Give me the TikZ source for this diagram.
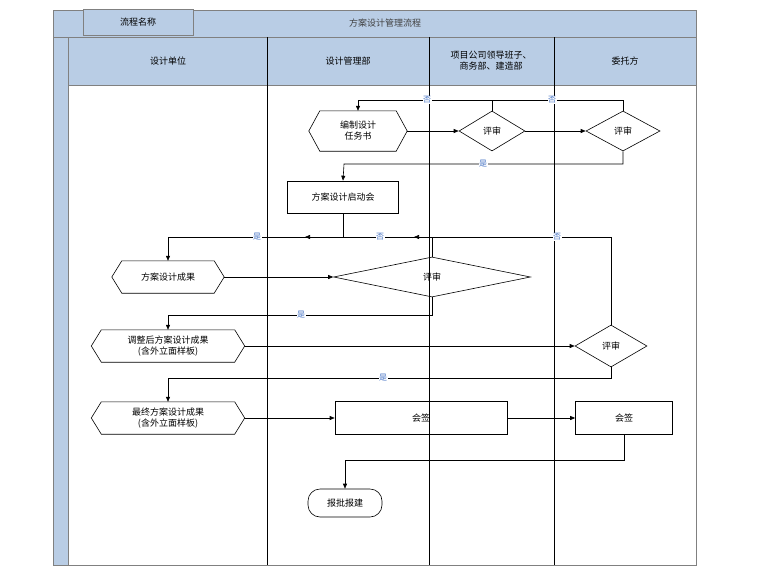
\documentclass[tikz,border=0pt]{standalone}
\usepackage{fontspec}
\setmainfont{Noto Sans CJK SC}
\usetikzlibrary{shapes.geometric,arrows.meta}
\definecolor{hdr}{RGB}{185,205,229}
\definecolor{lbl}{RGB}{68,114,196}
\newcommand{\hexdraw}[2]{\draw[line width=0.6pt] (#1.west) -- ([xshift=#2]#1.north west) -- ([xshift=-#2]#1.north east) -- (#1.east) -- ([xshift=-#2]#1.south east) -- ([xshift=#2]#1.south west) -- cycle;}
\begin{document}
\begin{tikzpicture}[x=1pt,y=-1pt,font=\fontsize{9}{11}\selectfont,
  box/.style={draw,line width=0.6pt,inner sep=0pt,align=center},
  hexn/.style={inner sep=0pt,align=center},
  dia/.style={draw,diamond,aspect=#1,inner sep=0pt,line width=0.6pt},
  ln/.style={line width=0.6pt},
  ar/.style={line width=0.6pt,-{Triangle[length=5pt,width=4pt]}},
  lab/.style={text=lbl,fill=white,inner sep=0.5pt,font=\fontsize{8}{9}\selectfont}]
\useasboundingbox (0,0) rectangle (760,570);
\fill[white] (0,0) rectangle (760,570);
% frame
\fill[hdr] (53,10) rectangle (696,37);
\fill[hdr] (53,37) rectangle (68,565);
\fill[hdr] (68,37) rectangle (696,85);
\draw[ln,gray] (53,10) rectangle (696,565);
\draw[ln,gray] (53,37) -- (696,37);
\draw[ln,gray] (68,37) -- (68,565);
\draw[ln,gray] (68,85) -- (696,85);
\node[box,draw=gray,fill=hdr,minimum width=110pt,minimum height=26pt] (pn) at (138,22) {流程名称};
\node[text=black!75] (title) at (385,23) {方案设计管理流程};
\foreach \x in {267,429,554} \draw[ln] (\x,37) -- (\x,565);
\draw[ln,dashed,gray] (53,565) -- (696,565);
\node (h1) at (168,61) {设计单位};
\node (h2) at (348,61) {设计管理部};
\node[align=center] (h3) at (491,61) {项目公司领导班子、\\商务部、建造部};
\node (h4) at (625,61) {委托方};
% nodes
\node[hexn,minimum width=98pt,minimum height=40pt] (bz) at (358,131) {编制设计\\任务书};\hexdraw{bz}{11pt}
\node[dia=1.6,minimum width=66pt,minimum height=40pt] (ps1) at (492,131) {评审};
\node[dia=1.8,minimum width=74pt,minimum height=40pt] (ps2) at (623,131) {评审};
\node[box,minimum width=111pt,minimum height=32pt] (qd) at (343,197) {方案设计启动会};
\node[hexn,minimum width=112pt,minimum height=32pt] (cg) at (168,277) {方案设计成果};\hexdraw{cg}{10pt}
\node[dia=4.9,minimum width=197pt,minimum height=40pt] (ps3) at (432,277) {评审};
\node[hexn,minimum width=153pt,minimum height=32pt] (tz) at (168,346) {调整后方案设计成果\\(含外立面样板)};\hexdraw{tz}{10pt}
\node[dia=1.7,minimum width=72pt,minimum height=42pt] (ps4) at (611,346) {评审};
\node[hexn,minimum width=153pt,minimum height=32pt] (zz) at (168,418) {最终方案设计成果\\(含外立面样板)};\hexdraw{zz}{10pt}
\node[box,minimum width=172pt,minimum height=33pt] (hq1) at (421,418) {会签};
\node[box,minimum width=97pt,minimum height=33pt] (hq2) at (624,418) {会签};
\node[box,rounded corners=12pt,minimum width=74pt,minimum height=28pt] (bp) at (345,503) {报批报建};
\coordinate (c1) at (358,100);
\coordinate (c2) at (344,164);
\coordinate (c3) at (168,237);
\coordinate (c4) at (432,237);
\coordinate (c5) at (168,315);
\coordinate (c6) at (168,378);
\coordinate (c7) at (345,460);
% connectors
\draw[ar] (bz) -- (ps1);
\draw[ar] (ps1) -- (ps2);
\draw[ln] (ps1.north) |- (c1);
\draw[ar] (ps2.north) |- (c1) -- (bz.north) node[lab,pos=0,xshift=69pt] {否} node[lab,pos=0,xshift=194pt] {否};
\draw[ar] (ps2.south) |- (c2) -- (qd.north) node[lab,pos=0,xshift=139pt] {是};
\draw[ln] (qd.south) |- (c3);
\draw[ar] (ps3.north) |- (c3) -- (cg.north);
\draw[ar] (c4) -- ++(-127,0);
\node[lab] at (257,237) {是};
\node[lab] at (380,237) {否};
\draw[ar] (ps4.north) |- ([xshift=-18pt]c4);
\draw[ln] ([xshift=-18pt]c4) -- (c4);
\node[lab] at (557,237) {否};
\draw[ar] (cg) -- (ps3);
\draw[ar] (ps3.south) |- (c5) -- (tz.north);
\node[lab] at (301,315) {是};
\draw[ar] (tz) -- (ps4);
\draw[ar] (ps4.south) |- (c6) -- (zz.north);
\node[lab] at (383,378) {是};
\draw[ar] (zz) -- (hq1);
\draw[ar] (hq1) -- (hq2);
\draw[ar] (hq2.south) |- (c7) -- (bp.north);
\end{tikzpicture}
\end{document}
